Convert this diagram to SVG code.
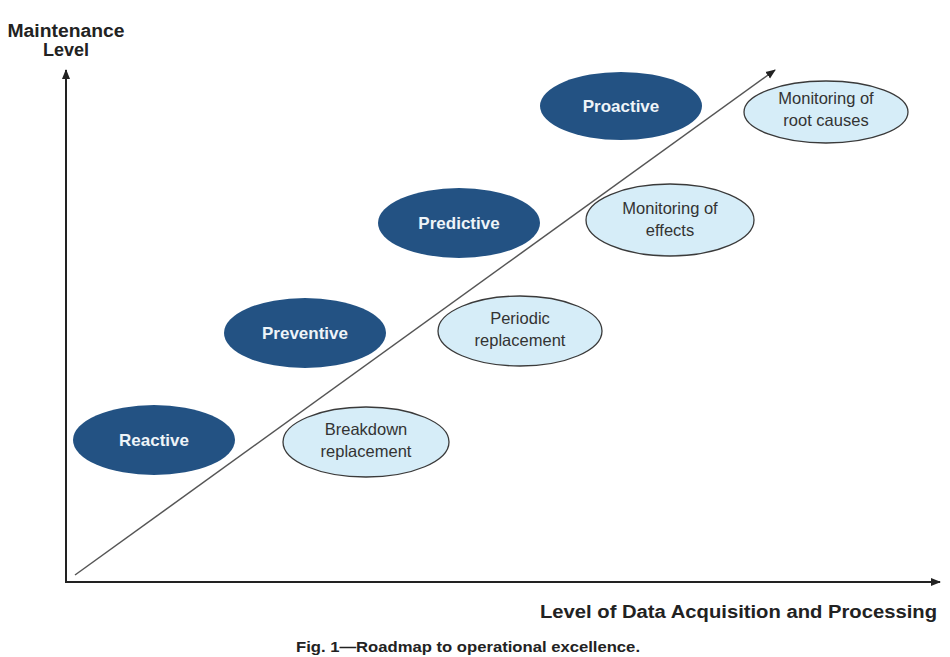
<svg xmlns="http://www.w3.org/2000/svg" width="950" height="657" viewBox="0 0 950 657">
<style>
.dark{fill:#235283;stroke:none}
.light{fill:#d6edf8;stroke:#3a3a3a;stroke-width:1.3}
.dt{font-family:"Liberation Sans",Arial,sans-serif;font-size:17px;font-weight:bold;fill:#eef4f8;text-anchor:middle}
.lt{font-family:"Liberation Sans",Arial,sans-serif;font-size:16.5px;fill:#333;text-anchor:middle}
.ax{font-family:"Liberation Sans",Arial,sans-serif;font-size:18px;font-weight:bold;fill:#222}
.axis{stroke:#222;stroke-width:2;fill:none}
.diag{stroke:#555;stroke-width:1.5;fill:none}
</style>
<defs>
<marker id="ah" markerWidth="10" markerHeight="10" refX="9" refY="5" orient="auto" markerUnits="userSpaceOnUse">
<path d="M0,1 L10,5 L0,9 Z" fill="#222"/>
</marker>
</defs>
<rect width="950" height="657" fill="#fff"/>
<g id="connectors">
<line class="axis" x1="66" y1="583" x2="66" y2="70" marker-end="url(#ah)"/>
<line class="axis" x1="66" y1="582" x2="940" y2="582" marker-end="url(#ah)"/>
<line class="diag" x1="75" y1="575" x2="775" y2="70" marker-end="url(#ah)"/>
</g>
<g id="axis-labels">
<text class="ax" x="66" y="37" text-anchor="middle" textLength="117" lengthAdjust="spacingAndGlyphs">Maintenance</text>
<text class="ax" x="66" y="56" text-anchor="middle">Level</text>
<text class="ax" x="937" y="618" text-anchor="end" textLength="397" lengthAdjust="spacingAndGlyphs">Level of Data Acquisition and Processing</text>
<text x="468" y="652" text-anchor="middle" font-family="'Liberation Sans',Arial,sans-serif" font-size="14" font-weight="bold" fill="#222" textLength="344" lengthAdjust="spacingAndGlyphs">Fig. 1—Roadmap to operational excellence.</text>
</g>
<g id="reactive"><ellipse class="dark" cx="154" cy="440" rx="81" ry="35"/><text class="dt" x="154" y="446">Reactive</text></g>
<g id="preventive"><ellipse class="dark" cx="305" cy="333" rx="81" ry="35"/><text class="dt" x="305" y="339">Preventive</text></g>
<g id="predictive"><ellipse class="dark" cx="459" cy="223" rx="81" ry="35"/><text class="dt" x="459" y="229">Predictive</text></g>
<g id="proactive"><ellipse class="dark" cx="621" cy="106" rx="81" ry="34"/><text class="dt" x="621" y="112">Proactive</text></g>
<g id="breakdown"><ellipse class="light" cx="366" cy="442" rx="83" ry="35"/><text class="lt" x="366" y="435">Breakdown</text><text class="lt" x="366" y="457">replacement</text></g>
<g id="periodic"><ellipse class="light" cx="520" cy="331" rx="82" ry="35"/><text class="lt" x="520" y="324">Periodic</text><text class="lt" x="520" y="346">replacement</text></g>
<g id="effects"><ellipse class="light" cx="670" cy="220" rx="84" ry="36"/><text class="lt" x="670" y="214">Monitoring of</text><text class="lt" x="670" y="236">effects</text></g>
<g id="root-causes"><ellipse class="light" cx="826" cy="112" rx="82" ry="31"/><text class="lt" x="826" y="104">Monitoring of</text><text class="lt" x="826" y="126">root causes</text></g>
</svg>
